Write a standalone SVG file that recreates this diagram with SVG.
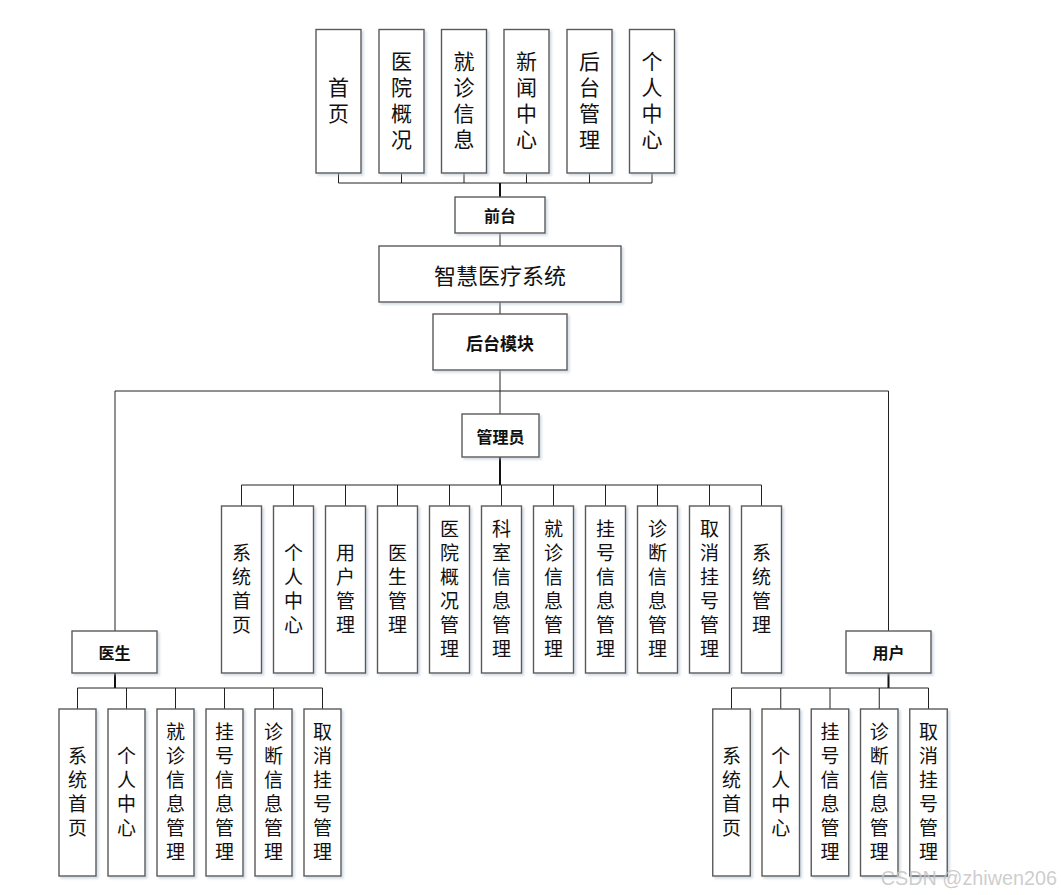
<svg xmlns="http://www.w3.org/2000/svg" width="1061" height="895" viewBox="0 0 1061 895">
<style>
.b{fill:#fff;stroke:#5a5a5a;stroke-width:1.4;filter:url(#sh)}
.c{fill:none;stroke:#222;stroke-width:1}
.k{fill:none;stroke:#111;stroke-width:2}
.t{font-family:"Noto Sans CJK SC","Liberation Sans",sans-serif;font-size:19px;fill:#111;text-anchor:middle;writing-mode:vertical-rl;letter-spacing:5px}
.tt{font-family:"Noto Sans CJK SC","Liberation Sans",sans-serif;font-size:21px;fill:#111;text-anchor:middle;writing-mode:vertical-rl;letter-spacing:5px}
.h{font-family:"Noto Sans CJK SC","Liberation Sans",sans-serif;font-size:16px;font-weight:bold;fill:#111;text-anchor:middle;dominant-baseline:central}
</style>
<defs>
<filter id="sh" x="-20%" y="-20%" width="140%" height="140%">
<feDropShadow dx="2" dy="2" stdDeviation="1.2" flood-color="#9fb3c8" flood-opacity="0.45"/>
</filter>
</defs>
<rect width="1061" height="895" fill="#fff"/>
<g id="connectors">
<path class="c" d="M338.5 173V183M401.5 173V183M464 173V183M526.5 173V183M589.5 173V183M652 173V183M338.5 183H652"/>
<path class="k" d="M500 183V197"/>
<path class="c" d="M500 233V246M500 302V314M500 370V391M115 391H888.5M115 391V631M888.5 391V631M500 391V414"/>
<path class="k" d="M500 457V485"/>
<path class="c" d="M241.5 485H761.5M241.5 485V506M293.5 485V506M345.5 485V506M397.5 485V506M449.5 485V506M501.5 485V506M553.5 485V506M605.5 485V506M657.5 485V506M709.5 485V506M761.5 485V506"/>
<path class="k" d="M115 673V688"/>
<path class="c" d="M77.5 688H322.5M77.5 688V709M126.5 688V709M175.5 688V709M224.5 688V709M273.5 688V709M322.5 688V709"/>
<path class="k" d="M888.5 673V688"/>
<path class="c" d="M731.5 688H928.5M731.5 688V709M780.75 688V709M830 688V709M879.25 688V709M928.5 688V709"/>
</g>
<g id="n-shouye"><rect class="b" x="316" y="29.5" width="45" height="143.5"/><text class="tt" x="338.5" y="103">首页</text></g>
<g id="n-yiyuangaikuang"><rect class="b" x="379" y="29.5" width="45" height="143.5"/><text class="tt" x="401.5" y="103">医院概况</text></g>
<g id="n-jiuzhenxinxi"><rect class="b" x="441.5" y="29.5" width="45" height="143.5"/><text class="tt" x="464" y="103">就诊信息</text></g>
<g id="n-xinwenzhongxin"><rect class="b" x="504" y="29.5" width="45" height="143.5"/><text class="tt" x="526.5" y="103">新闻中心</text></g>
<g id="n-houtaiguanli"><rect class="b" x="567" y="29.5" width="45" height="143.5"/><text class="tt" x="589.5" y="103">后台管理</text></g>
<g id="n-gerenzhongxin-top"><rect class="b" x="629.5" y="29.5" width="45" height="143.5"/><text class="tt" x="652" y="103">个人中心</text></g>
<g id="n-qiantai"><rect class="b" x="455" y="197" width="90" height="36"/><text class="h" x="500" y="215">前台</text></g>
<g id="n-system"><rect class="b" x="379" y="246" width="242" height="56"/><text class="h" style="font-size:22px;font-weight:normal" x="500" y="274">智慧医疗系统</text></g>
<g id="n-houtaimokuai"><rect class="b" x="433" y="314" width="134" height="56"/><text class="h" style="font-size:17px" x="500" y="342">后台模块</text></g>
<g id="n-guanliyuan"><rect class="b" x="462" y="414" width="77" height="43"/><text class="h" x="500.5" y="436">管理员</text></g>
<g id="n-yisheng"><rect class="b" x="72" y="631" width="85" height="42"/><text class="h" x="114.5" y="652">医生</text></g>
<g id="n-yonghu"><rect class="b" x="846" y="631" width="85" height="42"/><text class="h" x="888.5" y="652">用户</text></g>
<g id="a1"><rect class="b" x="221.5" y="506" width="40" height="167"/><text class="t" x="241.5" y="591">系统首页</text></g>
<g id="a2"><rect class="b" x="273.5" y="506" width="40" height="167"/><text class="t" x="293.5" y="591">个人中心</text></g>
<g id="a3"><rect class="b" x="325.5" y="506" width="40" height="167"/><text class="t" x="345.5" y="591">用户管理</text></g>
<g id="a4"><rect class="b" x="377.5" y="506" width="40" height="167"/><text class="t" x="397.5" y="591">医生管理</text></g>
<g id="a5"><rect class="b" x="429.5" y="506" width="40" height="167"/><text class="t" x="449.5" y="591">医院概况管理</text></g>
<g id="a6"><rect class="b" x="481.5" y="506" width="40" height="167"/><text class="t" x="501.5" y="591">科室信息管理</text></g>
<g id="a7"><rect class="b" x="533.5" y="506" width="40" height="167"/><text class="t" x="553.5" y="591">就诊信息管理</text></g>
<g id="a8"><rect class="b" x="585.5" y="506" width="40" height="167"/><text class="t" x="605.5" y="591">挂号信息管理</text></g>
<g id="a9"><rect class="b" x="637.5" y="506" width="40" height="167"/><text class="t" x="657.5" y="591">诊断信息管理</text></g>
<g id="a10"><rect class="b" x="689.5" y="506" width="40" height="167"/><text class="t" x="709.5" y="591">取消挂号管理</text></g>
<g id="a11"><rect class="b" x="741.5" y="506" width="40" height="167"/><text class="t" x="761.5" y="591">系统管理</text></g>
<g id="d1"><rect class="b" x="59" y="709" width="37" height="167"/><text class="t" x="77.5" y="794">系统首页</text></g>
<g id="d2"><rect class="b" x="108" y="709" width="37" height="167"/><text class="t" x="126.5" y="794">个人中心</text></g>
<g id="d3"><rect class="b" x="157" y="709" width="37" height="167"/><text class="t" x="175.5" y="794">就诊信息管理</text></g>
<g id="d4"><rect class="b" x="206" y="709" width="37" height="167"/><text class="t" x="224.5" y="794">挂号信息管理</text></g>
<g id="d5"><rect class="b" x="255" y="709" width="37" height="167"/><text class="t" x="273.5" y="794">诊断信息管理</text></g>
<g id="d6"><rect class="b" x="304" y="709" width="37" height="167"/><text class="t" x="322.5" y="794">取消挂号管理</text></g>
<g id="u1"><rect class="b" x="712.75" y="709" width="37.5" height="167"/><text class="t" x="731.5" y="794">系统首页</text></g>
<g id="u2"><rect class="b" x="762" y="709" width="37.5" height="167"/><text class="t" x="780.75" y="794">个人中心</text></g>
<g id="u3"><rect class="b" x="811.25" y="709" width="37.5" height="167"/><text class="t" x="830" y="794">挂号信息管理</text></g>
<g id="u4"><rect class="b" x="860.5" y="709" width="37.5" height="167"/><text class="t" x="879.25" y="794">诊断信息管理</text></g>
<g id="u5"><rect class="b" x="909.75" y="709" width="37.5" height="167"/><text class="t" x="928.5" y="794">取消挂号管理</text></g>
<text x="1057" y="885" font-family="Liberation Sans, sans-serif" font-size="19.8" fill="#c4c4c4" fill-opacity="0.85" text-anchor="end">CSDN @zhiwen206</text>
</svg>
